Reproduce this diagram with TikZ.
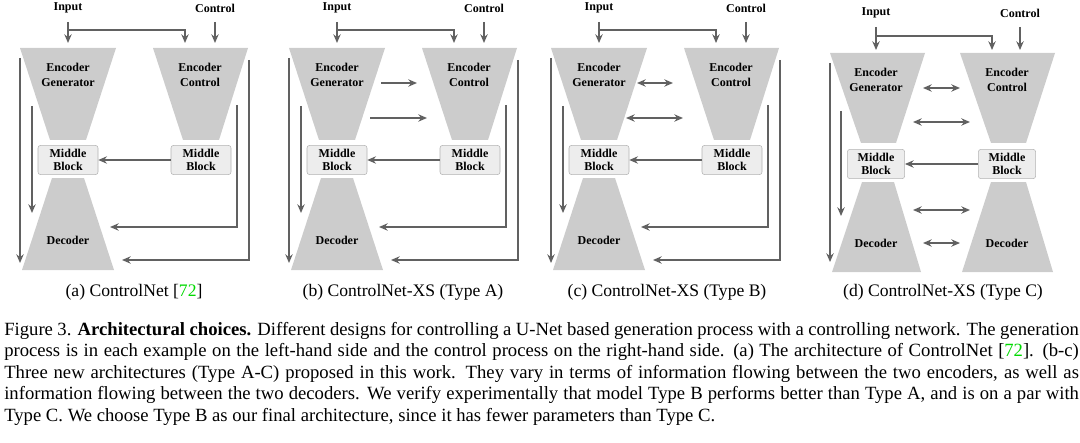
\documentclass[tikz,border=0pt]{standalone}
\usepackage{fontspec}
\setmainfont{Liberation Serif}
\usetikzlibrary{arrows.meta}
\definecolor{trap}{gray}{0.80}
\definecolor{arr}{gray}{0.38}
\definecolor{cgreen}{rgb}{0,0.85,0}
\begin{document}
\begin{tikzpicture}[x=0.75pt,y=-0.75pt,
  trapz/.style={fill=trap,draw=none},
  mb/.style={draw=gray!60,fill=gray!14,rounded corners=2pt,minimum width=45pt,minimum height=22pt,inner sep=0pt,align=center,font=\fontsize{9}{10}\selectfont\bfseries},
  lbl/.style={align=center,font=\fontsize{9}{11.5}\selectfont\bfseries},
  ar/.style={draw=arr,line width=1.6pt,-{Stealth[length=6.5pt,width=5.5pt]}},
  dar/.style={draw=arr,line width=1.6pt,{Stealth[length=6.5pt,width=5.5pt]}-{Stealth[length=6.5pt,width=5.5pt]}},
  captxt/.style={font=\fontsize{13.2}{15}\selectfont}]
\useasboundingbox (0,0) rectangle (1080,442);
% generic panel
\newcommand{\mypanel}[3]{%
\begin{scope}[xshift=#1*0.75pt]
\fill[trapz] (20,48) -- (116,48) -- (86,140) -- (50,140) -- cycle;
\fill[trapz] (52,178) -- (84,178) -- (114,270) -- (22,270) -- cycle;
\fill[trapz] (153,48) -- (248,48) -- (219,140) -- (183,140) -- cycle;
\node[lbl] (eg#2) at (68,75) {Encoder\\Generator};
\node[lbl] (ec#2) at (200,75) {Encoder\\Control};
\node[lbl] (dec#2) at (68,240) {Decoder};
\node[mb] (ml#2) at (68,160) {Middle\\Block};
\node[mb] (mr#2) at (201,160) {Middle\\Block};
\node[lbl] (in#2) at (68,8) {Input};
\node[lbl] (ct#2) at (215,8) {Control};
\coordinate (i0#2) at (68,22); \coordinate (i1#2) at (68,43);
\coordinate (c0#2) at (215,22); \coordinate (c1#2) at (215,43);
\draw[ar] (i0#2) -- (i1#2);
\draw[ar] (68,30) -| (185,43);
\draw[ar] (c0#2) -- (c1#2);
\draw[ar] (20,58) -- (20,263);
\draw[ar] (32,106) -- (32,213);
\draw[ar] (mr#2.west) -- (ml#2.east);
\draw[ar] (237,105) |- (110,227);
\draw[ar] (249,60) |- (122,260);
#3
\end{scope}}
\mypanel{0}{a}{\node[captxt] (capa) at (134,292) {(a) ControlNet [\textcolor{cgreen}{72}]};}
\mypanel{269}{b}{\draw[ar] (112,83) -- (148,83); \draw[ar] (101,118) -- (158,118);
 \node[captxt] (capb) at (134,292) {(b) ControlNet-XS (Type A)};}
\mypanel{531}{c}{\draw[dar] (106,83) -- (142,83); \draw[dar] (95,118) -- (152,118);
 \node[captxt] (capc) at (136,292) {(c) ControlNet-XS (Type B)};}
% panel d
\begin{scope}[xshift=810*0.75pt]
\fill[trapz] (20,53) -- (115,53) -- (86,143) -- (51,143) -- cycle;
\fill[trapz] (52,182) -- (84,182) -- (111,272) -- (22,272) -- cycle;
\fill[trapz] (150,53) -- (245,53) -- (216,143) -- (181,143) -- cycle;
\fill[trapz] (181,182) -- (216,182) -- (243,272) -- (152,272) -- cycle;
\node[lbl] (egd) at (66,80) {Encoder\\Generator};
\node[lbl] (ecd) at (197,80) {Encoder\\Control};
\node[lbl] (decd) at (66,243) {Decoder};
\node[lbl] (decrd) at (197,243) {Decoder};
\node[mb,minimum width=43pt] (mld) at (66,164) {Middle\\Block};
\node[mb,minimum width=43pt] (mrd) at (197,164) {Middle\\Block};
\node[lbl] (ind) at (66,13) {Input};
\node[lbl] (ctd) at (210,13) {Control};
\draw[ar] (66,27) -- (66,50);
\draw[ar] (66,36) -| (182,50);
\draw[ar] (210,27) -- (210,50);
\draw[ar] (20,63) -- (20,262);
\draw[ar] (31,111) -- (31,216);
\draw[ar] (mrd.west) -- (mld.east);
\draw[dar] (113,88) -- (150,88);
\draw[dar] (103,122) -- (160,122);
\draw[dar] (103,210) -- (160,210);
\draw[dar] (113,243) -- (150,243);
\node[captxt] (capd) at (133,292) {(d) ControlNet-XS (Type C)};
\end{scope}
\node[anchor=north west,text width=806pt,align=justify,inner sep=0pt,font=\fontsize{14}{16.1}\selectfont] (fig) at (4,322) {Figure 3. \textbf{Architectural choices.} Different designs for controlling a U-Net based generation process with a controlling network. The generation process is in each example on the left-hand side and the control process on the right-hand side. (a) The architecture of ControlNet [\textcolor{cgreen}{72}]. (b-c) Three new architectures (Type A-C) proposed in this work. They vary in terms of information flowing between the two encoders, as well as information flowing between the two decoders. We verify experimentally that model Type B performs better than Type A, and is on a par with Type C. We choose Type B as our final architecture, since it has fewer parameters than Type C.};
\end{tikzpicture}
\end{document}
